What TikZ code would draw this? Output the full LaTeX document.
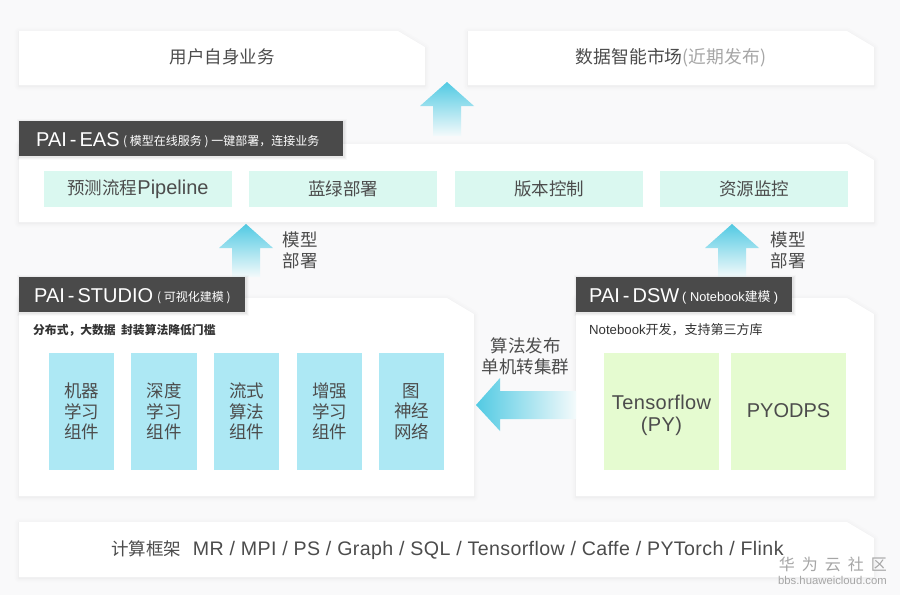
\documentclass[tikz,border=0pt]{standalone}
\usepackage{fontspec}
\setmainfont{Liberation Sans}
\newfontfamily\cjk{Noto Sans CJK SC}
\newfontfamily\wide[LetterSpace=2]{Liberation Sans}
\definecolor{bgc}{HTML}{F9F9FA}
\definecolor{txt}{HTML}{4C4C4C}
\definecolor{tagc}{HTML}{4A4A4A}
\definecolor{pill}{HTML}{DAF8F0}
\definecolor{bluebox}{HTML}{ADE8F4}
\definecolor{greenbox}{HTML}{E5FBD0}
\definecolor{arrowa}{HTML}{52CAE3}
\definecolor{arrowb}{HTML}{AEE5F0}
\definecolor{arrowc}{HTML}{F4FAFB}
\newcommand{\fs}[1]{\fontsize{#1}{#1}\selectfont}
\tikzset{
  sheet/.style={fill=white},
  tagbox/.style={fill=tagc},
  pillbox/.style={fill=pill,draw=none,minimum height=36pt,text=txt,inner sep=0pt,anchor=center},
  bluebk/.style={fill=bluebox,draw=none,minimum width=65.5pt,minimum height=117pt,inner sep=0pt,text=txt,align=center,font=\cjk\fs{17.5}},
  greenbk/.style={fill=greenbox,draw=none,minimum width=115pt,minimum height=117pt,inner sep=0pt,text=txt,align=center,font=\wide\fs{20}},
  lab/.style={text=txt,inner sep=0pt,align=center},
  white tag/.style={text=white,inner sep=0pt,anchor=base west}
}
\newcommand{\panel}[4]{%
  \foreach \w/\o in {9/.006,6/.008,3/.010,1.5/.012}{%
    \draw[black,opacity=\o,line width=\w pt,line join=round]
      (#1,#2+1) -- (#3-27,#2+1) -- (#3,#2+17) -- (#3,#4+1) -- (#1,#4+1) -- cycle;}
  \fill[sheet] (#1,#2) -- (#3-27,#2) -- (#3,#2+16) -- (#3,#4) -- (#1,#4) -- cycle;}
\newcommand{\tagrect}[4]{%
  \foreach \w/\o in {6/.02,4/.03,2/.04}{%
    \draw[black,opacity=\o,line width=\w pt] (#1+1,#2+1) rectangle (#3+1,#4+1);}
  \fill[tagbox] (#1,#2) rectangle (#3,#4);}
\newcommand{\uparr}[3]{%
  \shade[top color=arrowa,middle color=arrowb,bottom color=arrowc]
    (#1,#2) -- (#1+27,#2+24) -- (#1+14,#2+24) -- (#1+14,#3) -- (#1-14,#3) -- (#1-14,#2+24) -- (#1-27,#2+24) -- cycle;}
\newcommand{\dashk}{\kern3pt-\kern3pt}
\begin{document}
\begin{tikzpicture}[x=1pt,y=-1pt]
\path[use as bounding box,fill=bgc] (0,0) rectangle (900,595);

% block arrows
\uparr{447}{82}{136}
\uparr{246}{224}{277}
\uparr{732}{224}{277}

% panels
\panel{19}{31}{425}{85}
\panel{468}{31}{874}{85}
\panel{19}{144}{874}{222}
\panel{19}{298}{474}{496}
\panel{576}{298}{874}{496}
\panel{19}{522}{874}{577}

% left block arrow
\shade[left color=arrowa,middle color=arrowb,right color=arrowc]
  (476,405) -- (500,378) -- (500,391) -- (576,391) -- (576,419) -- (500,419) -- (500,431) -- cycle;

% top panels text
\node[lab,font=\cjk\fs{17.5}] (userbiz) at (222,57) {用户自身业务};
\node[lab,font=\cjk\fs{17.8}] (market) at (671,58) {数据智能市场\textcolor{gray!70}{(近期发布)}};

% tags
\tagrect{19}{121}{343}{156}
\tagrect{19}{277}{245}{312}
\tagrect{576}{277}{792}{312}
\node[white tag,font=\fs{20}] (eas) at (36,146) {PAI\dashk EAS};
\node[white tag,font=\cjk\fs{12}] (eassub) at (123,145) {( 模型在线服务 ) 一键部署，连接业务};
\node[white tag,font=\fs{20}] (studio) at (34,302) {PAI\dashk STUDIO};
\node[white tag,font=\cjk\fs{12}] (studiosub) at (157,301) {( 可视化建模 )};
\node[white tag,font=\fs{20}] (dsw) at (589,302) {PAI\dashk DSW};
\node[white tag,font=\fs{12.8}] (dswsub) at (682,301) {( Notebook{\cjk 建模} )};

% EAS pills
\node[pillbox,minimum width=188pt,font=\cjk\fs{17.5}] (p1) at (138,189) {预测流程{\fs{20}\rmfamily Pipeline}};
\node[pillbox,minimum width=188pt,font=\cjk\fs{17.5}] (p2) at (343,189) {蓝绿部署};
\node[pillbox,minimum width=188pt,font=\cjk\fs{17.5}] (p3) at (549,189) {版本控制};
\node[pillbox,minimum width=188pt,font=\cjk\fs{17.5}] (p4) at (754,189) {资源监控};

% side labels
\node[lab,font=\cjk\fs{17.5}] (dep1) at (300,250.5) {模型\\[3pt]部署};
\node[lab,font=\cjk\fs{17.5}] (dep2) at (788,250.5) {模型\\[3pt]部署};
\node[lab,font=\cjk\fs{17.5}] (pub) at (525.5,356.5) {算法发布\\[3pt]单机转集群};

% sub headings
\node[lab,anchor=west,text=black!80,font=\cjk\bfseries\fs{11.8}] (stext) at (33,330) {分布式，大数据 \ 封装算法降低门槛};
\node[lab,anchor=west,text=black!80,font=\fs{13.2}] (dtext) at (589,330) {Notebook{\cjk\fs{13}开发，支持第三方库}};

% studio blocks
\node[bluebk] (b1) at (81.5,411.5) {机器\\[3pt]学习\\[3pt]组件};
\node[bluebk] (b2) at (164,411.5) {深度\\[3pt]学习\\[3pt]组件};
\node[bluebk] (b3) at (246.5,411.5) {流式\\[3pt]算法\\[3pt]组件};
\node[bluebk] (b4) at (329.5,411.5) {增强\\[3pt]学习\\[3pt]组件};
\node[bluebk] (b5) at (411.5,411.5) {图\\[3pt]神经\\[3pt]网络};

% DSW blocks
\node[greenbk] (g1) at (661.5,411.5) {\raisebox{-2pt}[\height][0pt]{Tensorflow}\\[2pt]\raisebox{-2pt}[\height][0pt]{(PY)}};
\node[greenbk,font=\fs{20}] (g2) at (788.5,411) {PYODPS};

% bottom
\node[lab,anchor=west,font=\wide\fs{19.6}] (frame) at (111,550.5) {{\cjk\fs{17.5}计算框架}\ \ MR / MPI / PS / Graph / SQL / Tensorflow / Caffe / PYTorch / Flink};

% watermark
\node[lab,anchor=east,font=\cjk\fs{16},text=gray!70] (wm1) at (887,564) {华\hspace{7pt}为\hspace{7pt}云\hspace{7pt}社\hspace{7pt}区};
\node[lab,anchor=east,font=\fs{11.3},text=gray!70] (wm2) at (887,580) {bbs.huaweicloud.com};
\end{tikzpicture}
\end{document}
